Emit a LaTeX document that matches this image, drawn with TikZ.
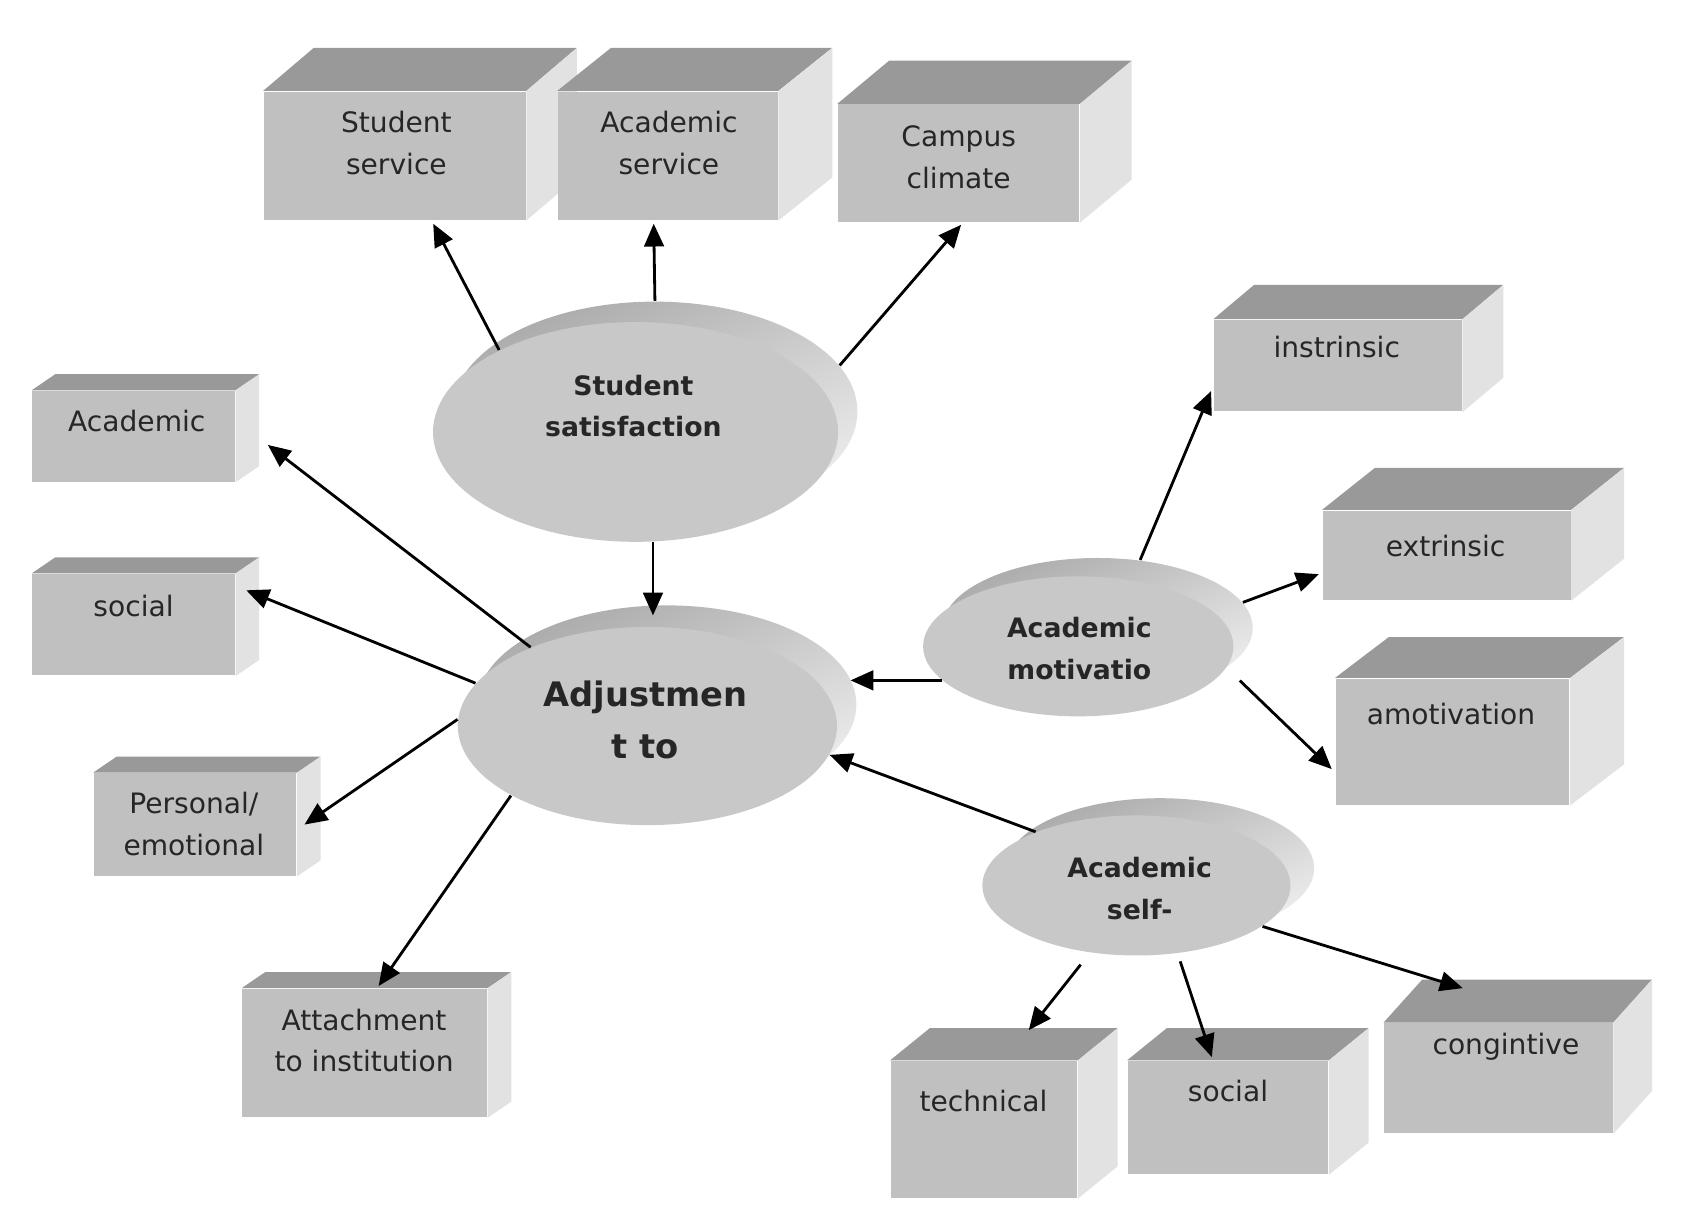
\documentclass[tikz,border=0pt]{standalone}
\usepackage{fontspec}
\setmainfont{DejaVu Sans}
\usetikzlibrary{shapes.geometric,arrows.meta,calc}
\definecolor{frontc}{HTML}{C0C0C0}
\definecolor{topc}{HTML}{999999}
\definecolor{sidec}{HTML}{E2E2E2}
\definecolor{ellc}{HTML}{C8C8C8}
\tikzset{
  front/.style={rectangle, fill=frontc, inner sep=0pt},
  topface/.style={fill=topc},
  sideface/.style={fill=sidec},
  lbl/.style={font=\fontsize{8}{11.9}\selectfont, align=center, text=black!85, inner sep=0pt},
  elbl/.style={font=\fontsize{7.6}{11.9}\selectfont\bfseries, align=center, text=black!85, inner sep=0pt},
  ellmain/.style={ellipse, fill=ellc, inner sep=0pt},
  ellback/.style={ellipse, inner sep=0pt, top color=black!33, bottom color=black!7, shading angle=25},
  arr/.style={line width=0.8pt, draw=black, -{Triangle[length=6.5pt,width=5.6pt]}}
}
% #1 name, #2 x1, #3 y1, #4 x2, #5 y2, #6 dx, #7 dy
\newcommand\cubebox[7]{%
  \node[front, minimum width={(#4-#2)*0.010772cm}, minimum height={(#5-#3)*0.010772cm}] (#1) at ({(#2+#4)/2},{(#3+#5)/2}) {};
  \fill[topface] (#1.north west) -- ++(#6,#7) -- ($(#1.north east)+(#6,#7)$) -- (#1.north east) -- cycle;
  \fill[sideface] (#1.north east) -- ++(#6,#7) -- ($(#1.south east)+(#6,#7)$) -- (#1.south east) -- cycle;
}
% #1 name, #2 cx, #3 cy, #4 w, #5 h, #6 shadow dx, #7 shadow dy
\newcommand\ellnode[7]{%
  \node[ellback, minimum width={#4*0.010772cm}, minimum height={#5*0.010772cm}] (#1b) at ({#2+#6},{#3+#7}) {};
  \node[ellmain, minimum width={#4*0.010772cm}, minimum height={#5*0.010772cm}] (#1) at (#2,#3) {};
}
\begin{document}
\begin{tikzpicture}[x=0.010772cm,y=-0.010772cm]
\fill[white] (0,0) rectangle (1568,1121);
\useasboundingbox (0,0) rectangle (1568,1121);

% top boxes
\cubebox{b1}{245}{85}{488}{204}{47}{-40}
\cubebox{b2}{518}{85}{722}{204}{50}{-40}
\cubebox{b3}{778}{97}{1002}{206}{48}{-40}
% right boxes
\cubebox{b4}{1127}{297}{1357}{382}{38}{-32}
\cubebox{b5}{1228}{474}{1458}{557}{49}{-39}
\cubebox{b6}{1240}{630}{1457}{747}{50}{-38}
% left boxes
\cubebox{b7}{30}{363}{218}{447}{22}{-15}
\cubebox{b8}{30}{533}{218}{627}{22}{-15}
\cubebox{b9}{87}{718}{275}{813}{22}{-15}
\cubebox{b10}{225}{918}{452}{1037}{22}{-15}
% bottom right boxes
\cubebox{b11}{827}{985}{1000}{1112}{37}{-30}
\cubebox{b12}{1047}{985}{1233}{1090}{37}{-30}
\cubebox{b13}{1285}{950}{1497}{1052}{36}{-40}

% box labels
\node[lbl] (t1) at (368,133) {Student\\service};
\node[lbl] (t2) at (621,133) {Academic\\service};
\node[lbl] (t3) at (890,146) {Campus\\climate};
\node[lbl] (t4) at (1241,322) {instrinsic};
\node[lbl] (t5) at (1342,507) {extrinsic};
\node[lbl] (t6) at (1347,663) {amotivation};
\node[lbl] (t7) at (127,391) {Academic};
\node[lbl] (t8) at (124,563) {social};
\node[lbl] (t9) at (180,765) {Personal/\\emotional};
\node[lbl] (t10) at (338,966) {Attachment\\to institution};
\node[lbl] (t11) at (913,1022) {technical};
\node[lbl] (t12) at (1140,1013) {social};
\node[lbl] (t13) at (1398,972) {congintive};

% ellipses
\ellnode{ss}{590}{401}{376}{204}{18}{-19}
\ellnode{adj}{601}{674}{352}{184}{18}{-20}
\ellnode{am}{1001}{600}{288}{130}{18}{-17}
\ellnode{as}{1055}{822}{286}{130}{22}{-16}

\node[elbl] (tss) at (588,377) {Student\\satisfaction};
\node[font=\fontsize{9.6}{14.8}\selectfont\bfseries, align=center, text=black!85, inner sep=0pt] (tadj) at (599,668) {Adjustmen\\t to};
\node[elbl] (tam) at (1002,602) {Academic\\motivatio};
\node[elbl] (tas) at (1058,825) {Academic\\self-};

\coordinate (adjtop) at ($(adjb.north)!0.5!(adj.north)$);

% connectors
\draw[arr] (ss.149) -- ($(b1.south west)!0.646!(b1.south east)+(0,3)$);
\draw[arr] (ssb.north) -- ($(b2.south west)!0.436!(b2.south east)+(0,3)$);
\draw[arr] (ssb.14) -- ($(b3.south west)!0.51!(b3.south east)+(0,2)$);
\draw[arr] (ss.-81) -- (ss.-81 |- adjtop);
\draw[arr] (adj.146) -- ($(b7.east)+(30,8)$);
\draw[arr] (adj.166) -- ($(b8.east)+(10,-32)$);
\draw[arr] (adj.178) -- ($(b9.east)+(7,0)$);
\draw[arr] (adj.-153) -- ($(b10.north)+(13,-2)$);
\draw[arr] (am.-166) -- (am.-166 -| adjb.8);
\draw[arr] (amb.58) -- ($(b4.west)+(-2,23.5)$);
\draw[arr] (amb.10) -- ($(b5.west)+(-3,17.5)$);
\draw[arr] ($(am.-13)+(21,2)$) -- ($(b6.west)+(-3,25.5)$);
\draw[arr] (as.152) -- (adj.-9);
\draw[arr] ($(as.-125)+(-8,11)$) -- ($(b11.north)+(41.5,-28)$);
\draw[arr] ($(as.-60)+(4,7)$) -- ($(b12.north)+(-15,-3)$);
\draw[arr] (as.-18) -- ($(b13.north)+(-33,-32)$);
\end{tikzpicture}
\end{document}
